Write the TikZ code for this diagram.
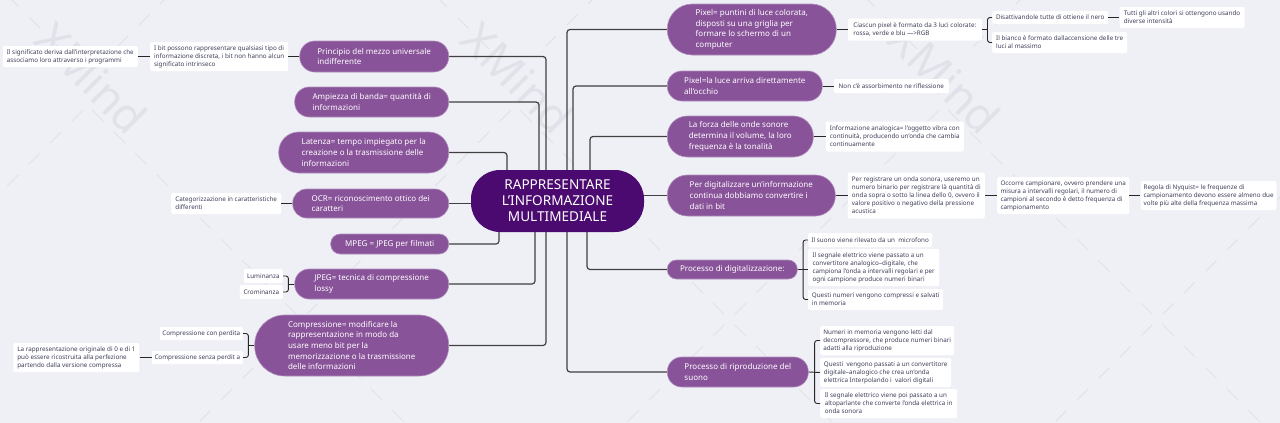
\documentclass[tikz,border=0pt]{standalone}
\usepackage{fontspec}
\setmainfont{Noto Sans}
\usetikzlibrary{positioning,calc,backgrounds}
\definecolor{sfondo}{HTML}{EFF0F6}
\definecolor{segno}{HTML}{E1E2E9}
\definecolor{viola}{HTML}{885399}
\definecolor{violascuro}{HTML}{4B0A70}
\definecolor{testofoglia}{HTML}{3C3F58}
\tikzset{
    centro/.style={rectangle, rounded corners=29pt, fill=violascuro, text=white, minimum width=173pt, minimum height=62pt, inner sep=0pt, align=center, font=\fontsize{13.6}{16}\selectfont},
    tema/.style 2 args={rectangle, rounded corners={#2pt/2-0.5pt}, fill=viola, draw=viola!65!white, line width=0.6pt, text=white, minimum width=#1pt, minimum height=#2pt, inner sep=0pt, align=left, font=\fontsize{8}{10.7}\selectfont},
    foglia/.style 2 args={rectangle, rounded corners=2pt, fill=white, text=testofoglia, minimum width=#1pt, minimum height=#2pt, inner sep=0pt, align=left, font=\fontsize{6.3}{8}\selectfont},
    ramo/.style={draw=black!75, line width=1.2pt, rounded corners=3pt},
    rametto/.style={draw=black!85, line width=0.9pt, rounded corners=2.5pt},
    tratto/.style={draw=segno, line width=1pt, dash pattern=on 15.5pt off 14.8pt},
    marca/.style={text=segno, rotate=-45, font=\fontsize{45}{45}\bfseries\selectfont}
}
\begin{document}
\begin{tikzpicture}[x=1pt, y=-1pt]
    \useasboundingbox (0,0) rectangle (1280,423);
    \begin{pgfonlayer}{background}
        \fill[sfondo] (0,0) rectangle (1280,423);
        \begin{scope}
            \clip (0,107) rectangle (1280,423);
            \foreach \p in {92.5,520.5,948.5} \draw[tratto] (\p,110.5) -- ++(320,320);
            \foreach \p in {82.5,510.5,938.5,1366.5} \draw[tratto] (\p,110.5) -- ++(-320,320);
        \end{scope}
        \begin{scope}
            \clip (0,0) rectangle (1280,48);
            \foreach \p in {8.1,436.1,864.1} \draw[tratto] (\p,-3.9) -- ++(60,60);
            \foreach \p in {171,599,1027} \draw[tratto] (\p,-7) -- ++(-60,60);
        \end{scope}
        \foreach \p in {92,518,945} \node[marca] (marca\p) at (\p,78) {XMind};
    \end{pgfonlayer}

    \node[centro] (centro) at (557.5,201) {RAPPRESENTARE\\L’INFORMAZIONE\\MULTIMEDIALE};

    % temi a sinistra
    \node[tema={149}{31}, anchor=east] (principio) at (449,56.5) {Principio del mezzo universale\\indifferente};
    \node[tema={154}{30}, anchor=east] (ampiezza) at (449,102) {Ampiezza di banda= quantità di\\informazioni};
    \node[tema={170}{41}, anchor=east] (latenza) at (449,152.5) {Latenza= tempo impiegato per la\\creazione o la trasmissione delle\\informazioni};
    \node[tema={156}{29}, anchor=east] (ocr) at (449,203.5) {OCR= riconoscimento ottico dei\\caratteri};
    \node[tema={118}{20}, anchor=east] (mpeg) at (449,244) {MPEG = JPEG per filmati};
    \node[tema={154}{30}, anchor=east] (jpeg) at (449,284) {JPEG= tecnica di compressione\\lossy};
    \node[tema={194}{61}, anchor=east] (compressione) at (449,345.5) {Compressione= modificare la\\rappresentazione in modo da\\usare meno bit per la\\memorizzazione o la trasmissione\\delle informazioni};

    % temi a destra
    \node[tema={169}{51}, anchor=west] (puntini) at (667,29.5) {Pixel= puntini di luce colorata,\\disposti su una griglia per\\formare lo schermo di un\\computer};
    \node[tema={155}{30}, anchor=west] (luce) at (667,86) {Pixel=la luce arriva direttamente\\all’occhio};
    \node[tema={146}{41}, anchor=west] (forza) at (667,136.5) {La forza delle onde sonore\\determina il volume, la loro\\frequenza è la tonalità};
    \node[tema={168}{41}, anchor=west] (digitale) at (667,195.5) {Per digitalizzare un’informazione\\continua dobbiamo convertire i\\dati in bit};
    \node[tema={130}{19}, anchor=west] (processo) at (667,269.5) {Processo di digitalizzazione:};
    \node[tema={141}{30}, anchor=west] (riproduzione) at (667,372) {Processo di riproduzione del\\suono};

    % foglie a sinistra
    \node[foglia={138}{29}, left=11pt of principio] (ibit) {I bit possono rappresentare qualsiasi tipo di\\informazione discreta, i bit non hanno alcun\\significato intrinseco};
    \node[foglia={135}{21}, left=12pt of ibit] (significato) {Il significato deriva dall’interpretazione che\\associamo loro attraverso i programmi};
    \node[foglia={110}{21}, left=11pt of ocr] (categorie) {Categorizzazione in caratteristiche\\differenti};
    \node[foglia={39}{14}, anchor=east] (luminanza) at (283,276) {Luminanza};
    \node[foglia={43}{14}, anchor=east] (crominanza) at (283,292) {Crominanza};
    \node[foglia={83}{13}, anchor=east] (conperdita) at (243,333.5) {Compressione con perdita};
    \node[foglia={91}{13}, anchor=east] (senzaperdita) at (243,357.5) {Compressione senza perdit a};
    \node[foglia={126}{29}, left=12pt of senzaperdita] (originale) {La rappresentazione originale di 0 e di 1\\può essere ricostruita alla perfezione\\partendo dalla versione compressa};

    % foglie a destra
    \node[foglia={134}{22}, right=11pt of puntini] (ciascun) {Ciascun pixel è formato da 3 luci colorate:\\rossa, verde e blu —>RGB};
    \node[foglia={116}{13}, anchor=west] (nero) at (992,17.5) {Disattivandole tutte di ottiene il nero};
    \node[foglia={125}{21}, right=11pt of nero] (altri) {Tutti gli altri colori si ottengono usando\\diverse intensità};
    \node[foglia={135}{21}, anchor=west] (bianco) at (992,42.5) {Il bianco è formato dallaccensione delle tre\\luci al massimo};
    \node[foglia={115}{14}, right=11pt of luce] (assorbimento) {Non c’è assorbimento ne riflessione};
    \node[foglia={138}{30}, right=12pt of forza] (analogica) {Informazione analogica= l’oggetto vibra con\\continuità, producendo un’onda che cambia\\continuamente};
    \node[foglia={137}{46}, right=12pt of digitale] (registrare) {Per registrare un onda sonora, useremo un\\numero binario per registrare là quantità di\\onda sopra o sotto la linea dello 0, ovvero il\\valore positivo o negativo della pressione\\acustica};
    \node[foglia={132}{37}, right=12pt of registrare] (occorre) {Occorre campionare, ovvero prendere una\\misura a intervalli regolari, il numero di\\campioni al secondo è detto frequenza di\\campionamento};
    \node[foglia={136}{29}, right=11pt of occorre] (nyquist) {Regola di Nyquist= le frequenze di\\campionamento devono essere almeno due\\volte più alte della frequenza massima};
    \node[foglia={124}{14}, anchor=west] (microfono) at (808,240) {Il suono viene rilevato da un\ \ microfono};
    \node[foglia={131}{37}, anchor=west] (segnale) at (808,267.5) {Il segnale elettrico viene passato a un\\convertitore analogico–digitale, che\\campiona l’onda a intervalli regolari e per\\ogni campione produce numeri binari};
    \node[foglia={135}{21}, anchor=west] (memoria) at (808,299.5) {Questi numeri vengono compressi e salvati\\in memoria};
    \node[foglia={134}{29}, anchor=west] (letti) at (820,340.5) {Numeri in memoria vengono letti dal\\decompressore, che produce numeri binari\\adatti alla riproduzione};
    \node[foglia={131}{29}, anchor=west] (questi) at (820,372.5) {Questi\ \ vengono passati a un convertitore\\digitale–analogico che crea un’onda\\elettrica Interpolando i\ \ valori digitali};
    \node[foglia={137}{29}, anchor=west] (altoparlante) at (820,403.5) {Il segnale elettrico viene poi passato a un\\altoparlante che converte l’onda elettrica in\\onda sonora};

    \begin{pgfonlayer}{background}
        \draw[ramo] (principio.east) -| ($(centro)+(-11.5,0)$);
        \draw[ramo] (ampiezza.east) -| ($(centro)+(-18.5,0)$);
        \draw[ramo] (latenza.east) -| ($(centro)+(-50.5,0)$);
        \draw[ramo] (ocr.east) -- (ocr.east -| centro.center);
        \draw[ramo] (mpeg.east) -| ($(centro)+(-58.5,0)$);
        \draw[ramo] (jpeg.east) -| ($(centro)+(-22.5,0)$);
        \draw[ramo] (compressione.east) -| ($(centro)+(-11.5,0)$);
        \draw[ramo] (puntini.west) -| ($(centro)+(9.5,0)$);
        \draw[ramo] (luce.west) -| ($(centro)+(15.5,0)$);
        \draw[ramo] (forza.west) -| ($(centro)+(32.5,0)$);
        \draw[ramo] (digitale.west) -- (digitale.west -| centro.center);
        \draw[ramo] (processo.west) -| ($(centro)+(29.5,0)$);
        \draw[ramo] (riproduzione.west) -| ($(centro)+(9.5,0)$);
    \end{pgfonlayer}

    \draw[rametto] (ibit.east) -- (principio.west);
    \draw[rametto] (significato.east) -- (ibit.west);
    \draw[rametto] (categorie.east) -- (ocr.west);
    \draw[rametto] (jpeg.west) -- ++(-6,0);
    \draw[rametto] (luminanza.east) -| ($(jpeg.west)+(-6,0)$) |- (crominanza.east);
    \draw[rametto] (compressione.west) -- ++(-6,0);
    \draw[rametto] (conperdita.east) -| ($(compressione.west)+(-6,0)$) |- (senzaperdita.east);
    \draw[rametto] (originale.east) -- (senzaperdita.west);
    \draw[rametto] (puntini.east) -- (ciascun.west);
    \draw[rametto] (ciascun.east) -- ++(5.5,0);
    \draw[rametto] (nero.west) -| ($(ciascun.east)+(5.5,0)$) |- (bianco.west);
    \draw[rametto] (nero.east) -- (altri.west);
    \draw[rametto] (luce.east) -- (assorbimento.west);
    \draw[rametto] (forza.east) -- (analogica.west);
    \draw[rametto] (digitale.east) -- (registrare.west);
    \draw[rametto] (registrare.east) -- (occorre.west);
    \draw[rametto] (occorre.east) -- (nyquist.west);
    \draw[rametto] (processo.east) -- (processo.east -| segnale.west);
    \draw[rametto] (microfono.west) -| ($(processo.east)+(5.5,0)$) |- (memoria.west);
    \draw[rametto] (riproduzione.east) -- (questi.west);
    \draw[rametto] (letti.west) -| ($(riproduzione.east)+(6,0)$) |- (altoparlante.west);
\end{tikzpicture}
\end{document}
